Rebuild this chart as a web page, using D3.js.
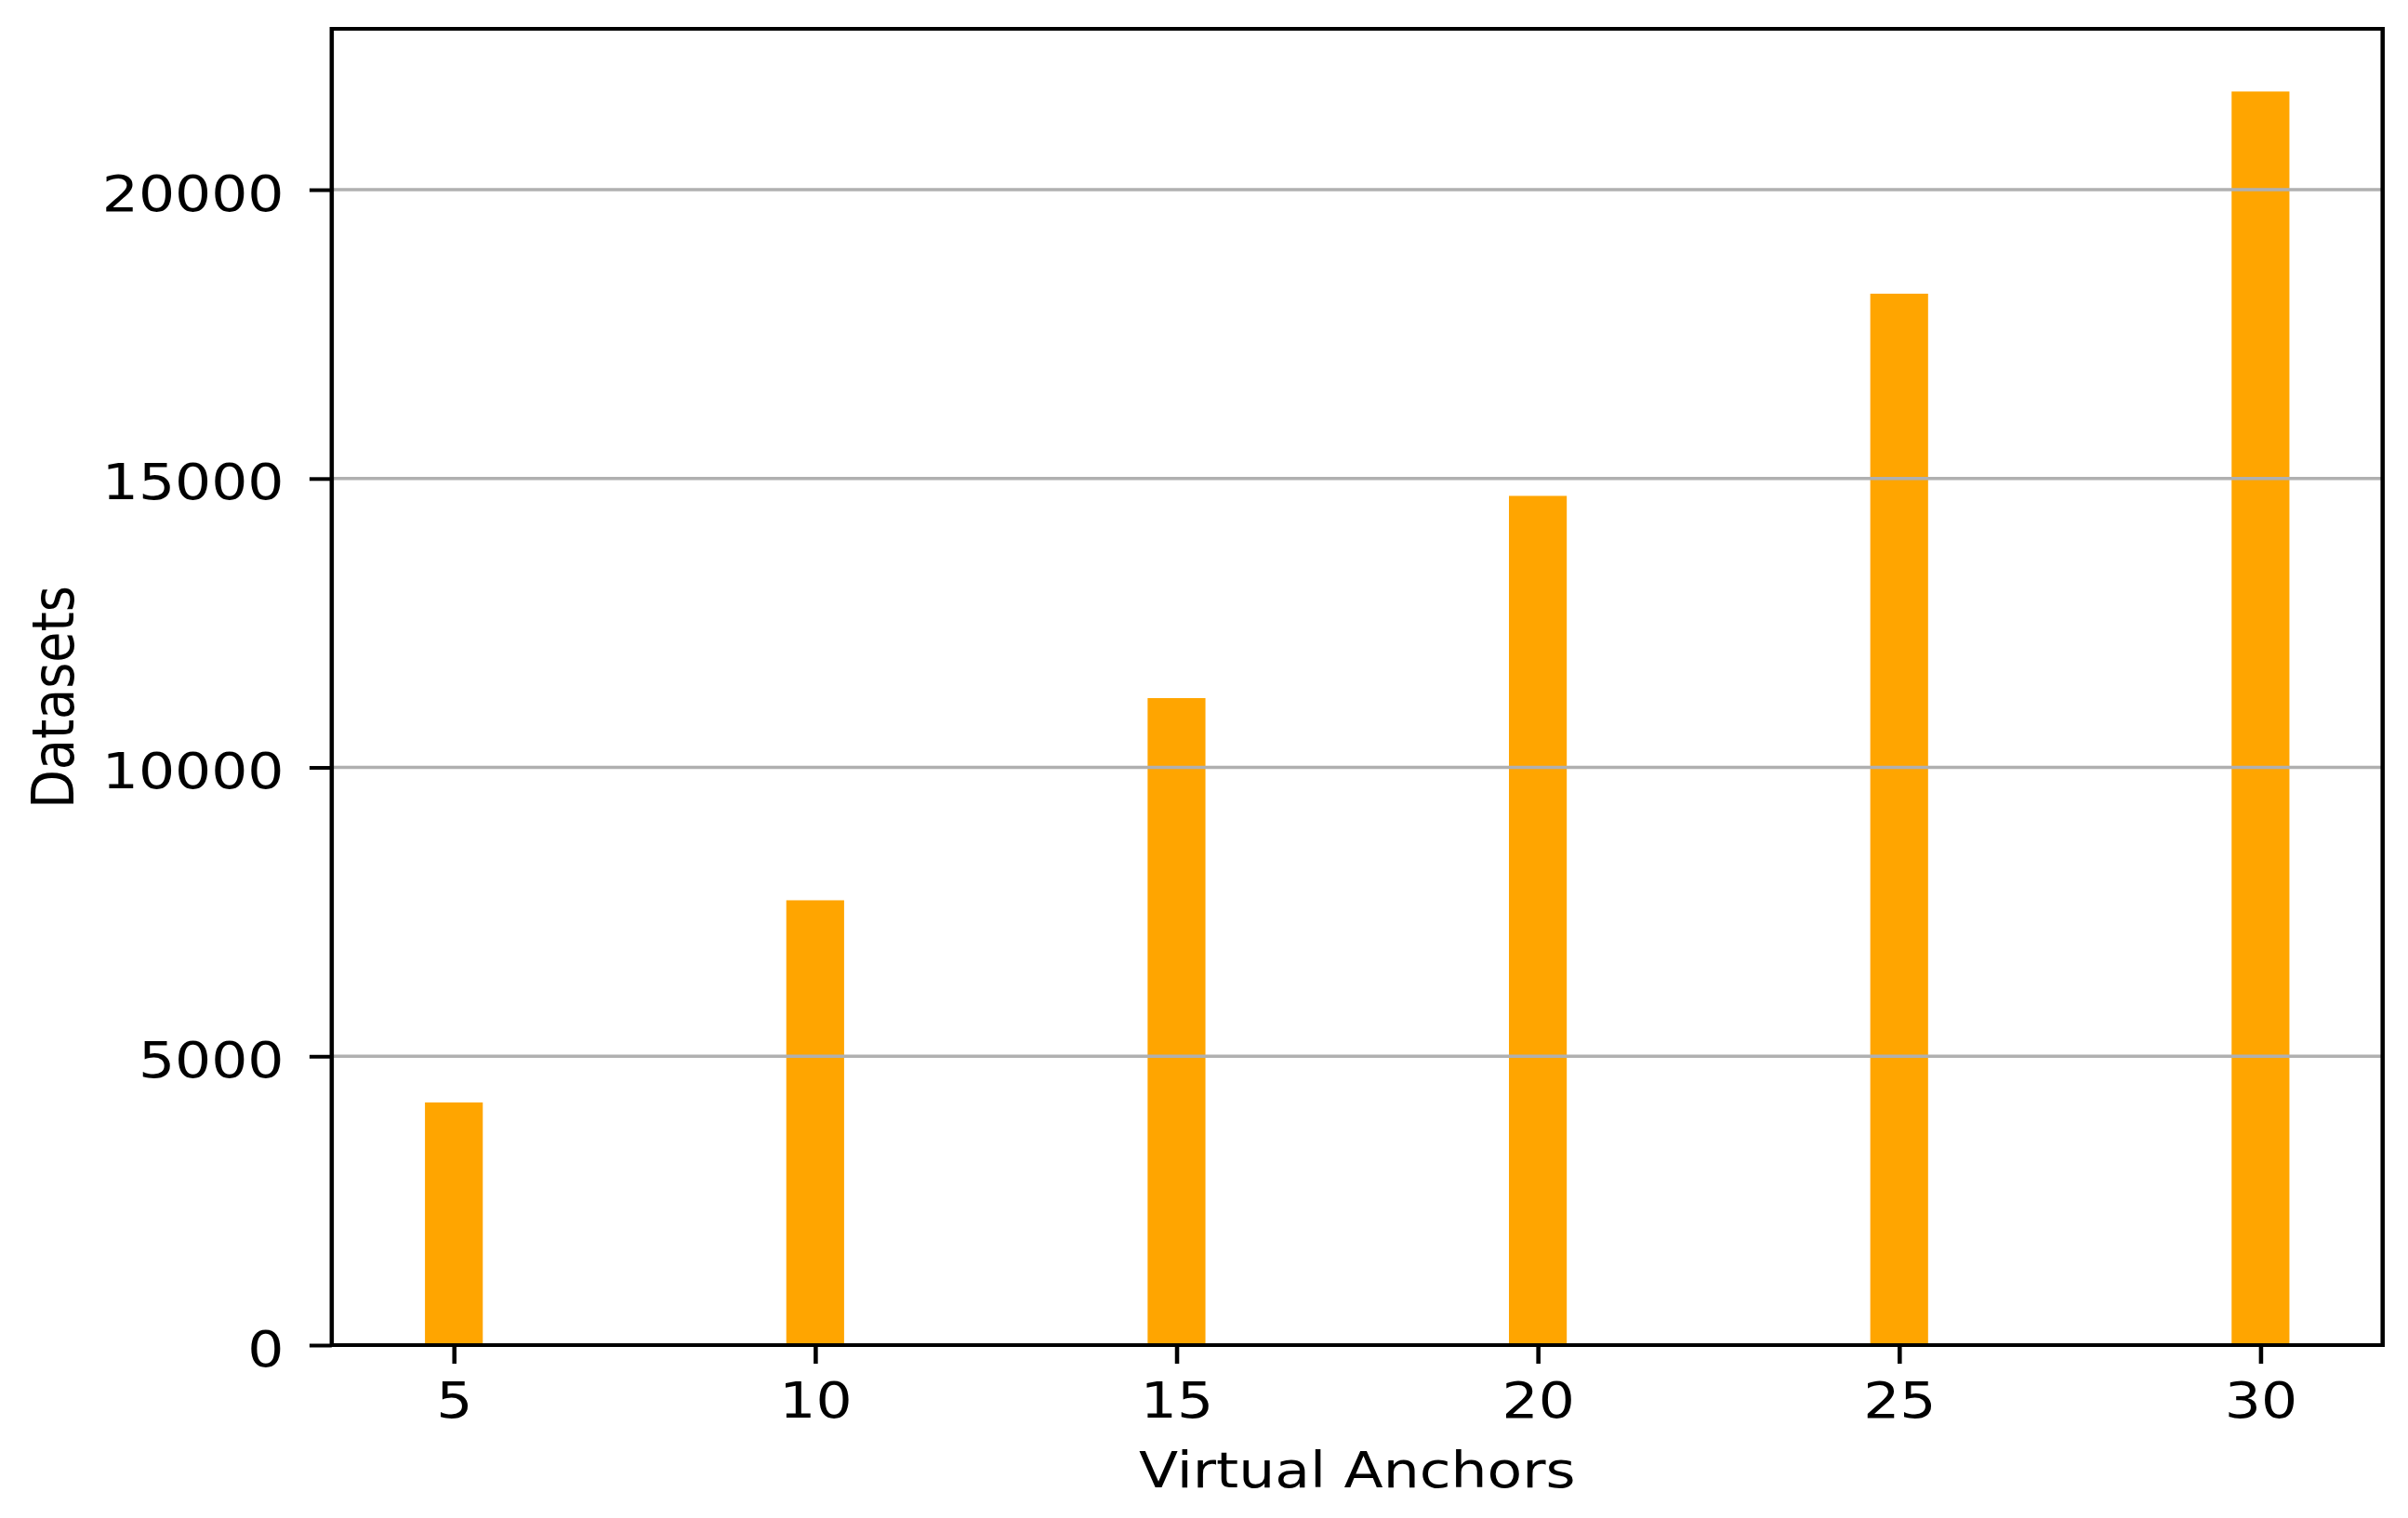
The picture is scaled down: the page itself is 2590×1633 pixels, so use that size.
<!DOCTYPE html>
<html>
<head>
<meta charset="utf-8">
<script src="https://cdn.jsdelivr.net/npm/d3@7"></script>
<style>
  html, body { margin: 0; padding: 0; background: #fff; }
  svg { display: block; }
  text { font-family: "DejaVu Sans", sans-serif; }
</style>
</head>
<body>
<div id="chart"></div>
<script>
// values
var anchors  = [5, 10, 15, 20, 25, 30];
var datasets = [4200, 7700, 11200, 14700, 18200, 21700];
var yTicks   = [0, 5000, 10000, 15000, 20000];
var xLabel   = "Virtual Anchors";
var yLabel   = "Datasets";

var width   = 2590;
var height  = 1633;
var stretch = 1.14;          // the picture is widened a bit horizontally
var vw      = width / stretch;

// plot box (viewBox units); "top" is taken by window.top
var pLeft   = 313;
var pRight  = 2248;
var pTop    = 31;
var pBottom = 1447;
var barW    = 0.8;
var fs      = 54;

var svg = d3.select("#chart")
  .append("svg")
    .attr("width",  width)
    .attr("height", height)
    .attr("viewBox", "0 0 " + vw + " " + height)
    .attr("preserveAspectRatio", "none");

var xMin = d3.min(anchors) - barW / 2;
var xMax = d3.max(anchors) + barW / 2;
var xPad = (xMax - xMin) * 0.05;

var x = d3.scaleLinear()
  .domain([xMin - xPad, xMax + xPad])
  .range([pLeft, pRight]);

var y = d3.scaleLinear()
  .domain([0, d3.max(datasets) * 1.05])
  .range([pBottom, pTop]);

// bars
svg.append("g")
  .selectAll("rect")
  .data(datasets)
  .enter().append("rect")
    .attr("x", (d, i) => x(anchors[i] - barW / 2))
    .attr("width", (d, i) => x(anchors[i] + barW / 2) - x(anchors[i] - barW / 2))
    .attr("y", (d) => y(d))
    .attr("height", (d) => y(0) - y(d))
    .attr("fill", "#ffa500");

// horizontal grid, drawn over the bars like matplotlib does
svg.append("g")
  .selectAll("line")
  .data(yTicks)
  .enter().append("line")
    .attr("x1", pLeft)
    .attr("x2", pRight)
    .attr("y1", (d) => y(d))
    .attr("y2", (d) => y(d))
    .attr("stroke", "#b0b0b0")
    .attr("stroke-width", 3.5);

// axes
var xAxis = svg.append("g")
  .attr("transform", "translate(0," + pBottom + ")")
  .call(d3.axisBottom(x).tickValues(anchors).tickSize(20).tickPadding(20).tickSizeOuter(0));

var yAxis = svg.append("g")
  .attr("transform", "translate(" + pLeft + ",0)")
  .call(d3.axisLeft(y).tickValues(yTicks).tickFormat(d3.format("d")).tickSize(21).tickPadding(24).tickSizeOuter(0));

[xAxis, yAxis].forEach((a) => {
  a.select(".domain").remove();
  a.selectAll(".tick line").attr("stroke", "#000").attr("stroke-width", 4);
  a.selectAll(".tick text")
    .attr("fill", "#000")
    .style("font-size", fs + "px")
    .style("font-family", "'DejaVu Sans', sans-serif");
});
yAxis.selectAll(".tick text").attr("dy", "0.41em");

// frame
svg.append("rect")
  .attr("x", pLeft)
  .attr("y", pTop)
  .attr("width",  pRight - pLeft)
  .attr("height", pBottom - pTop)
  .attr("fill", "none")
  .attr("stroke", "#000")
  .attr("stroke-width", 4);

// axis labels
svg.append("text")
  .attr("x", (pLeft + pRight) / 2)
  .attr("y", 1600)
  .attr("text-anchor", "middle")
  .attr("fill", "#000")
  .style("font-size", fs + "px")
  .text(xLabel);

svg.append("text")
  .attr("transform", "translate(69," + ((pTop + pBottom) / 2 + 11) + ") rotate(-90)")
  .attr("text-anchor", "middle")
  .attr("fill", "#000")
  .style("font-size", fs + "px")
  .text(yLabel);
</script>
</body>
</html>
